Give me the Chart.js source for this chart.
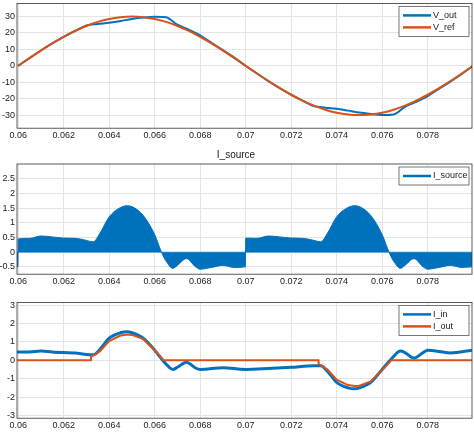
<!DOCTYPE html>
<html><head><meta charset="utf-8">
<script src="https://cdn.jsdelivr.net/npm/chart.js@4"></script>
<style>body{margin:0;background:#fff;width:474px;height:432px;position:relative;overflow:hidden}
canvas{position:absolute;left:0}</style></head><body>
<canvas id="c1" style="top:-4px"></canvas>
<canvas id="c2" style="top:147px"></canvas>
<canvas id="c3" style="top:295px"></canvas>
<script>
const xTicks=[0.06,0.062,0.064,0.066,0.068,0.07,0.072,0.074,0.076,0.078];
const xTickLabels=['0.06','0.062','0.064','0.066','0.068','0.07','0.072','0.074','0.076','0.078'];
// panel 1 (sampled every 0.0005 s from 0.06)
const tV=[0.06,0.0605,0.061,0.0615,0.062,0.0625,0.063,0.0635,0.064,0.0645,0.065,0.0655,0.066,0.0665,0.067,0.0675,0.068,0.0685,0.069,0.0695,0.07,0.0705,0.071,0.0715,0.072,0.0725,0.073,0.0735,0.074,0.0745,0.075,0.0755,0.076,0.0765,0.077,0.0775,0.078,0.0785,0.079,0.0795,0.08];
const vRef=[0,4.69,9.27,13.62,17.63,21.21,24.27,26.73,28.53,29.63,30,29.63,28.53,26.73,24.27,21.21,17.63,13.62,9.27,4.69,0,-4.69,-9.27,-13.62,-17.63,-21.21,-24.27,-26.73,-28.53,-29.63,-30,-29.63,-28.53,-26.73,-24.27,-21.21,-17.63,-13.62,-9.27,-4.69,0];
const vOut=[0,4.7,9.3,13.6,17.6,21.2,24.5,25.5,26.2,27.3,28.5,29.4,29.9,29.6,25,22,18.5,14,9.6,5,0,-4.7,-9.3,-13.6,-17.6,-21.2,-24.5,-25.5,-26.2,-27.3,-28.5,-29.4,-29.9,-29.6,-25,-22,-18.5,-14,-9.6,-5,0];
// panel 2 envelope
const tS=[0.05995,0.05999,0.06,0.0605,0.061,0.0615,0.062,0.0625,0.063,0.0633,0.0636,0.064,0.0645,0.0648,0.065,0.0655,0.066,0.0663,0.0665,0.0668,0.067,0.0674,0.0678,0.068,0.0685,0.069,0.0695,0.06999,0.07,0.0705,0.071,0.0715,0.072,0.0725,0.073,0.0733,0.0736,0.074,0.0745,0.0748,0.075,0.0755,0.076,0.0763,0.0765,0.0768,0.077,0.0774,0.0778,0.078,0.0785,0.079,0.0795,0.07995];
const iSrc=[-0.5,-0.5,0.45,0.47,0.55,0.52,0.48,0.47,0.4,0.35,0.65,1.2,1.52,1.58,1.55,1.25,0.6,0,-0.3,-0.55,-0.45,-0.22,-0.5,-0.58,-0.52,-0.45,-0.52,-0.5,0.48,0.47,0.55,0.52,0.48,0.47,0.4,0.35,0.65,1.2,1.52,1.58,1.55,1.25,0.6,0,-0.3,-0.55,-0.45,-0.22,-0.5,-0.58,-0.52,-0.45,-0.52,-0.5];
// panel 3
const tIn=[0.05995,0.0605,0.061,0.0615,0.062,0.0625,0.063,0.0633,0.0636,0.064,0.0645,0.0648,0.065,0.0655,0.066,0.0665,0.0668,0.067,0.0674,0.0678,0.068,0.069,0.07,0.071,0.072,0.073,0.0733,0.0736,0.074,0.0745,0.0748,0.075,0.0755,0.076,0.0765,0.0768,0.077,0.0774,0.0778,0.078,0.079,0.07995];
const iIn=[0.45,0.45,0.5,0.45,0.42,0.4,0.32,0.3,0.6,1.2,1.5,1.55,1.5,1.2,0.55,-0.2,-0.5,-0.38,-0.1,-0.42,-0.5,-0.4,-0.5,-0.45,-0.38,-0.3,-0.3,-0.6,-1.2,-1.5,-1.55,-1.5,-1.2,-0.5,0.2,0.5,0.42,0.12,0.42,0.55,0.4,0.55];
const tOut=[0.05995,0.0632,0.06321,0.0636,0.064,0.0645,0.0648,0.065,0.0655,0.066,0.0664,0.07,0.0732,0.07321,0.0736,0.074,0.0745,0.0748,0.075,0.0755,0.076,0.0764,0.07995];
const iOut=[0,0,0.2,0.5,1.05,1.35,1.4,1.38,1.15,0.55,0,0,0,-0.2,-0.5,-1.05,-1.35,-1.4,-1.38,-1.15,-0.55,0,0];

const BLUE='#0072BD',ORANGE='#D95319';
const pts=(xs,ys)=>xs.map((x,i)=>({x,y:ys[i]}));
const legendIn={id:'legendIn',afterDraw(ch){const c=ch.ctx,a=ch.chartArea;const ds=ch.data.datasets.filter(d=>d.label);
 const w=70,h=6+ds.length*12,x=a.right-w-3,y=a.top+3;c.save();c.fillStyle='#fff';c.fillRect(x,y,w,h);c.strokeStyle='#555';c.lineWidth=0.8;c.strokeRect(x,y,w,h);
 c.font='9px "Liberation Sans",Arial';c.textBaseline='middle';ds.forEach((d,i)=>{const yy=y+9+i*12;c.strokeStyle=d.borderColor;c.lineWidth=2.5;c.beginPath();c.moveTo(x+4,yy);c.lineTo(x+32,yy);c.stroke();c.fillStyle='#222';c.fillText(d.label,x+34,yy);});c.restore();}};
const frame={id:'frame',afterDraw(ch){const c=ch.ctx,a=ch.chartArea;c.save();c.strokeStyle='#333';c.lineWidth=0.8;c.strokeRect(a.left,a.top,a.right-a.left,a.bottom-a.top);c.restore();}};
function mk(id,h,datasets,ymin,ymax,yt,title){
 const cv=document.getElementById(id);cv.width=474;cv.height=h;cv.style.width='474px';cv.style.height=h+'px';
 return new Chart(cv,{type:'line',data:{datasets},plugins:[legendIn,frame],
 options:{responsive:false,animation:false,devicePixelRatio:1,layout:{padding:{top:title?0:3,right:2,left:0,bottom:0}},
 elements:{point:{radius:0},line:{tension:0.35,cubicInterpolationMode:'monotone'}},
 plugins:{legend:{display:false},tooltip:{enabled:false},title:{display:!!title,text:title,color:'#222',font:{size:10,family:'"Liberation Sans",Arial',weight:'normal'},padding:{top:2,bottom:3}}},
 scales:{x:{type:'linear',min:0.05995,max:0.07995,afterBuildTicks(s){s.ticks=xTicks.map(v=>({value:v}));},
  ticks:{autoSkip:false,maxRotation:0,color:'#222',font:{size:9,family:'"Liberation Sans",Arial'},padding:2,callback:(v)=>xTickLabels[xTicks.findIndex(t=>Math.abs(t-v)<1e-9)]},
  grid:{color:'#e4e4e4',drawTicks:false},border:{display:false}},
 y:{min:ymin,max:ymax,afterBuildTicks(s){s.ticks=yt.map(v=>({value:v}));},afterFit(s){s.width=17;},
  ticks:{color:'#222',font:{size:9,family:'"Liberation Sans",Arial'},padding:2,callback:(v)=>String(v)},grid:{color:'#e4e4e4',drawTicks:false},border:{display:false}}}}});
}
mk('c1',147,[{label:'V_out',data:pts(tV,vOut),borderColor:BLUE,borderWidth:2,order:1},{label:'V_ref',data:pts(tV,vRef),borderColor:ORANGE,borderWidth:2,order:0}],-38,38,[-30,-20,-10,0,10,20,30]);
mk('c2',142,[{label:'I_source',data:pts(tS,iSrc),borderColor:BLUE,backgroundColor:BLUE,borderWidth:1,fill:'origin',tension:0},{data:pts([0.05995,0.07995],[0,0]),borderColor:'#5aa9e6',borderWidth:1,tension:0}],-0.75,3,[-0.5,0,0.5,1,1.5,2,2.5],'I_source');
mk('c3',138,[{label:'I_in',data:pts(tIn,iIn),borderColor:BLUE,borderWidth:3,order:1},{label:'I_out',data:pts(tOut,iOut),borderColor:ORANGE,borderWidth:2,cubicInterpolationMode:'default',tension:0,order:0}],-3.15,3.15,[-3,-2,-1,0,1,2,3]);
</script></body></html>
